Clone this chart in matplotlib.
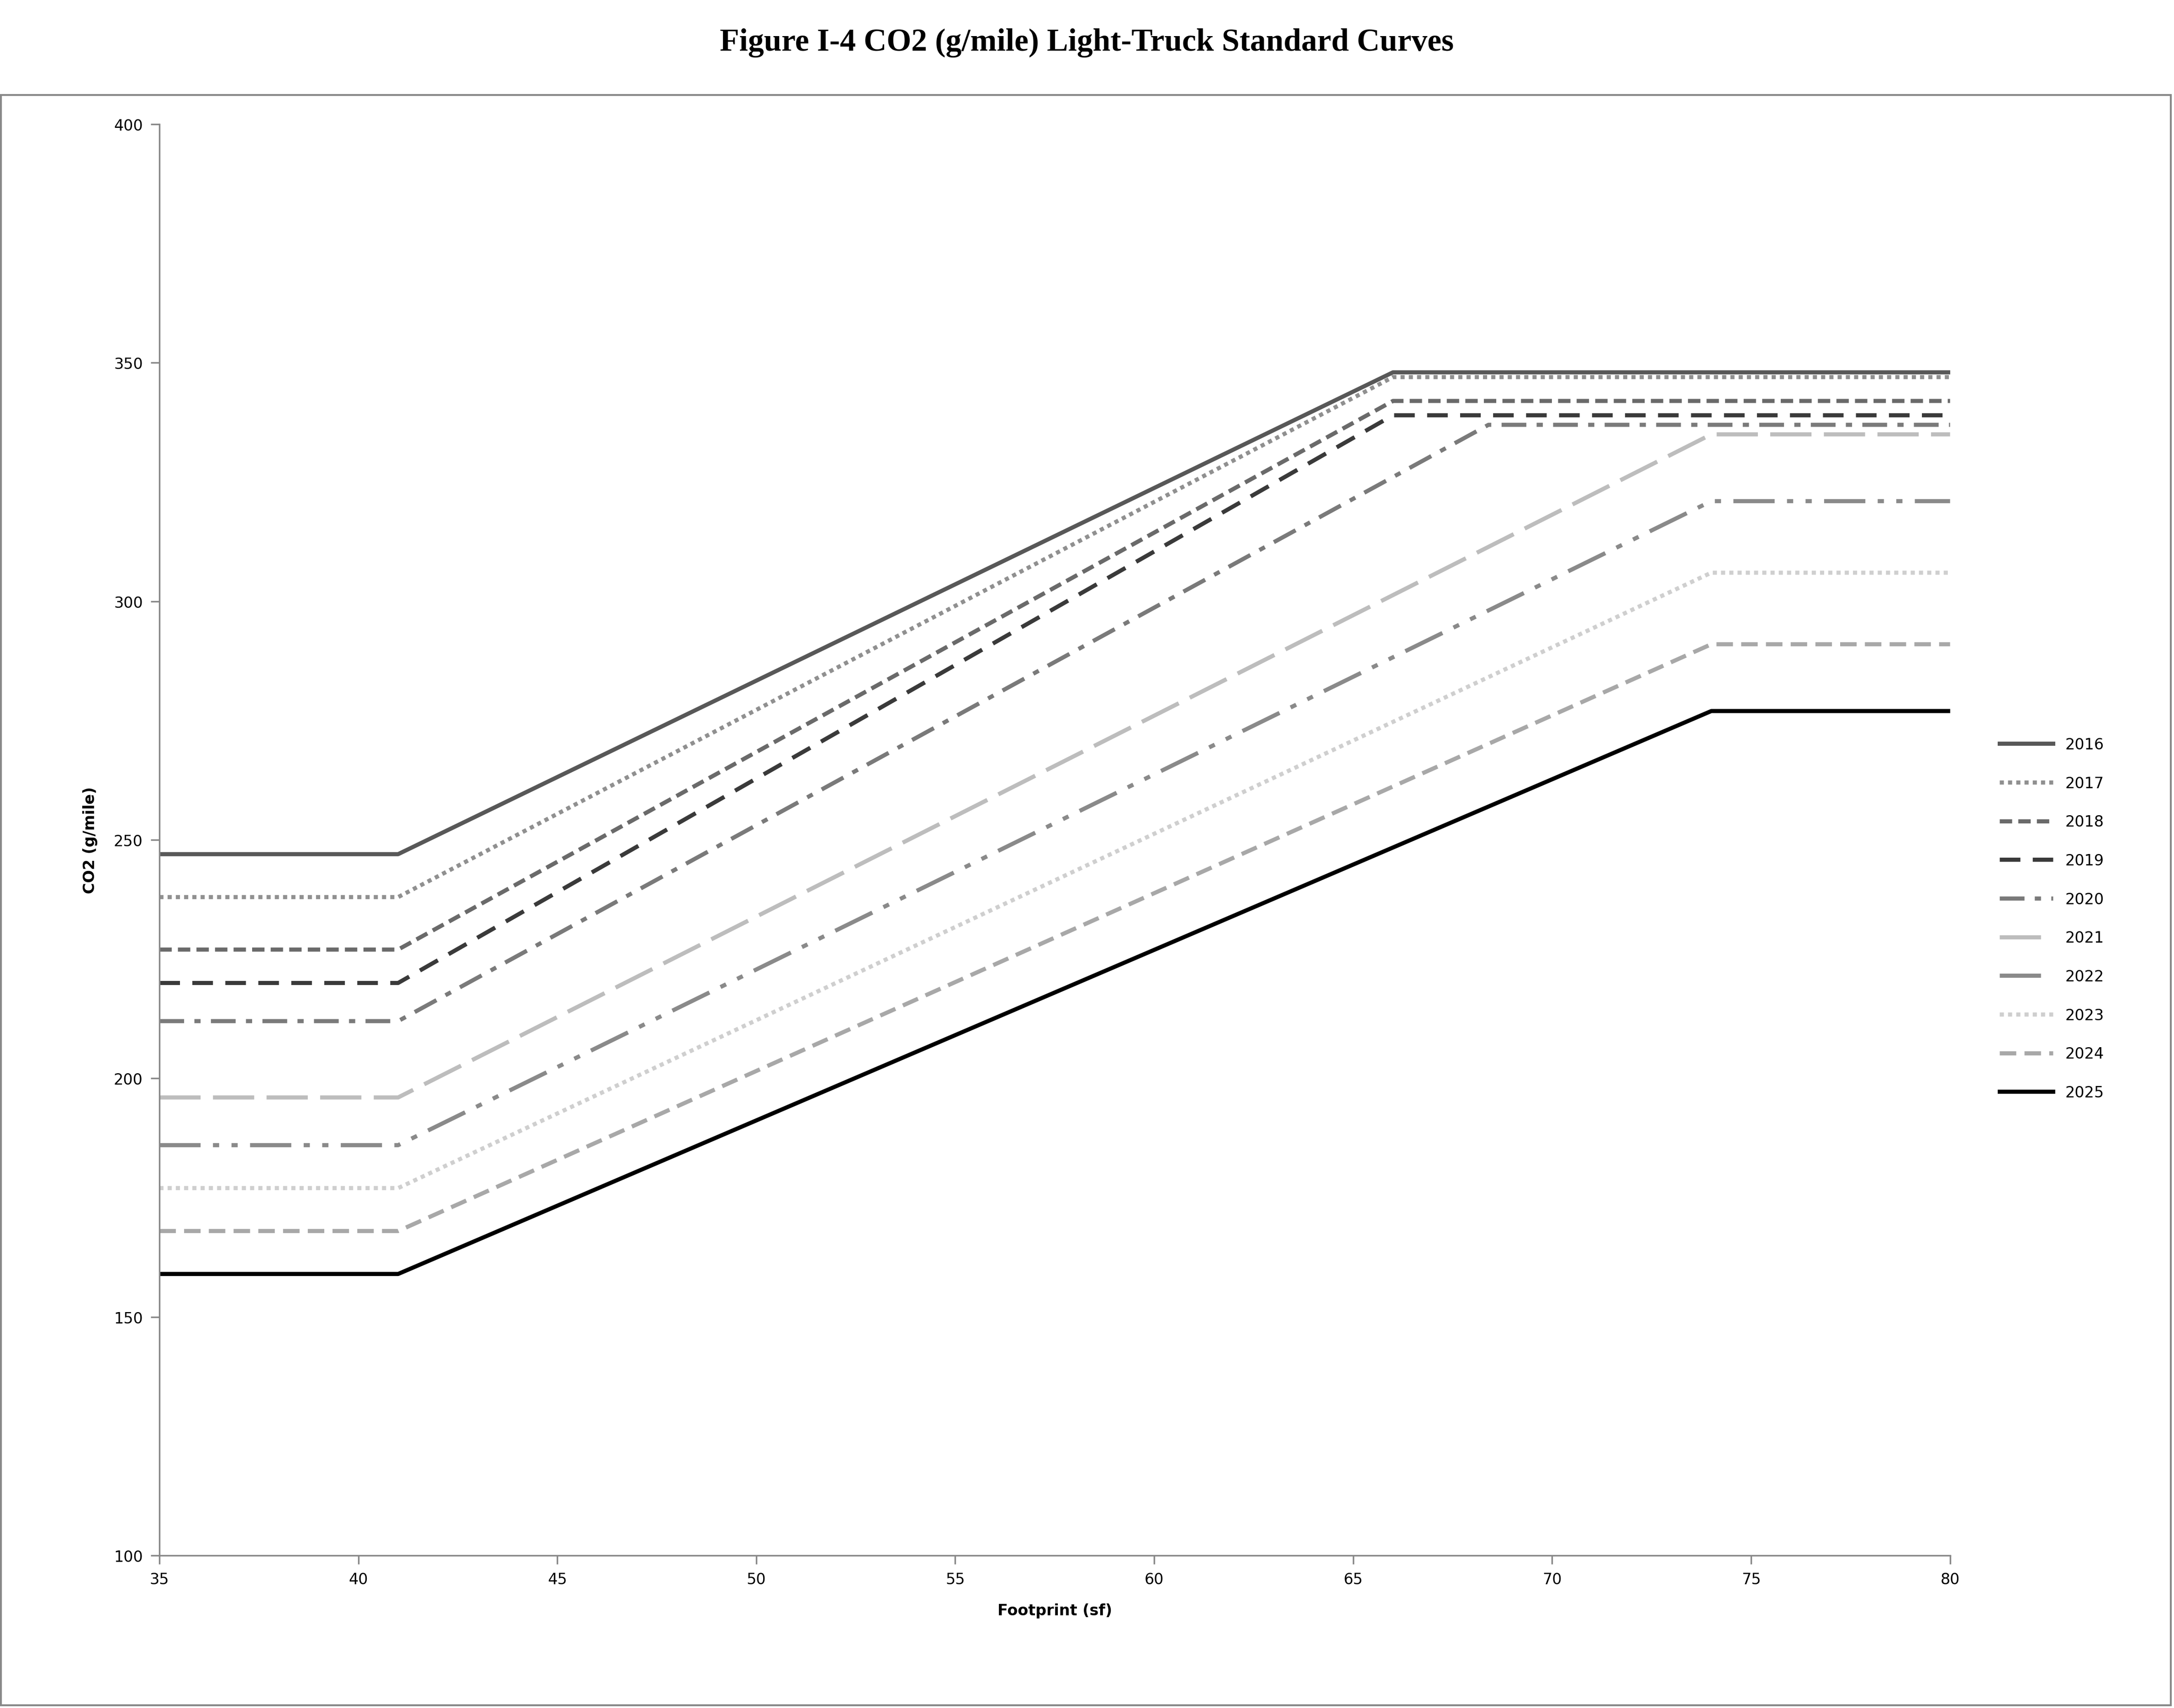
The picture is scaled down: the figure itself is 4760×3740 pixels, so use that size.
import matplotlib
matplotlib.use("Agg")
import matplotlib.pyplot as plt
from matplotlib.patches import Rectangle

years = ["2016","2017","2018","2019","2020","2021","2022","2023","2024","2025"]
low_vals = [247, 238, 227, 220, 212, 196, 186, 177, 168, 159]
high_vals = [348, 347, 342, 339, 337, 335, 321, 306, 291, 277]
knee_fp = [66, 66, 66, 66, 68.4, 74, 74, 74, 74, 74]
fp_min, fp_low, fp_max = 35, 41, 80

colors = ["#585858","#909090","#6a6a6a","#3a3a3a","#7a7a7a","#bdbdbd","#8a8a8a","#cfcfcf","#a8a8a8","#000000"]
styles = ["-", (0,(1,1)), (0,(3,1.5)), (0,(5,3)), (0,(6,2.5,1.5,2.5)), (0,(10,3)),
          (0,(10,3,1.5,3,1.5,3)), (0,(1,1)), (0,(4,2)), "-"]

fig = plt.figure(figsize=(47.6, 37.41), dpi=100)
fig.patches.append(Rectangle((0.0005, 0.0015), 0.998, 0.9425, transform=fig.transFigure,
                             fill=False, edgecolor="#888888", linewidth=3))
fig.text(0.5, 0.975, "Figure I-4 CO2 (g/mile) Light-Truck Standard Curves", ha="center", va="center",
         fontsize=50, fontweight="bold", family="Liberation Serif")
ax = fig.add_axes([0.0733, 0.0893, 0.8237, 0.8377])
for i, y in enumerate(years):
    xs = [fp_min, fp_low, knee_fp[i], fp_max]
    ys = [low_vals[i], low_vals[i], high_vals[i], high_vals[i]]
    ax.plot(xs, ys, color=colors[i], linestyle=styles[i], linewidth=6.5, label=y)
ax.set_xlim(35, 80)
ax.set_ylim(100, 400)
ax.set_xticks(range(35, 81, 5))
ax.set_yticks(range(100, 401, 50))
for s in ["top", "right"]:
    ax.spines[s].set_visible(False)
for s in ["left", "bottom"]:
    ax.spines[s].set_color("#888888"); ax.spines[s].set_linewidth(2.5)
ax.tick_params(direction="out", length=14, width=2.5, color="#888888", labelsize=24, pad=12)
ax.set_xlabel("Footprint (sf)", fontsize=24, fontweight="bold", labelpad=25)
ax.set_ylabel("CO2 (g/mile)", fontsize=24, fontweight="bold", labelpad=25)
ax.legend(loc="center left", bbox_to_anchor=(1.02, 0.445), frameon=False, fontsize=24,
          handlelength=3.5, labelspacing=1.55)
fig.savefig("out.png", dpi=100)
